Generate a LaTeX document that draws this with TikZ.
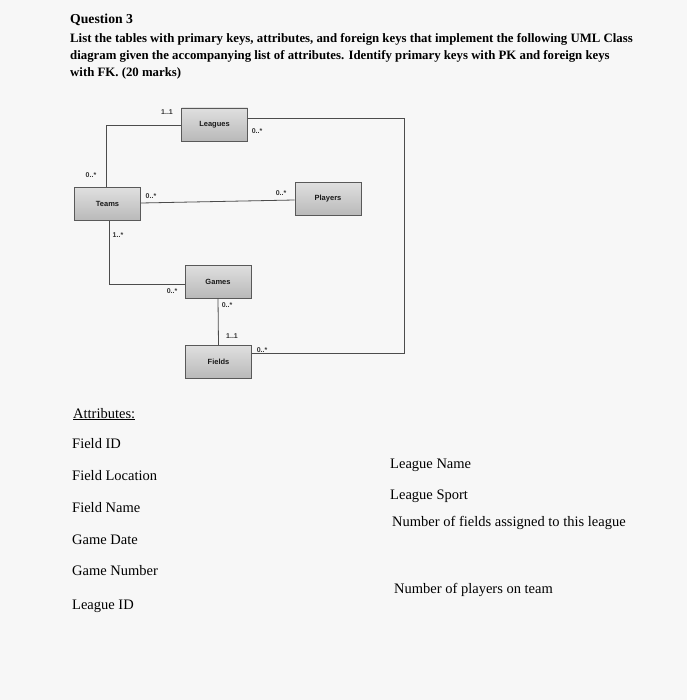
\documentclass[tikz,border=0pt]{standalone}
\usepackage{fontspec}
\setmainfont{Liberation Serif}
\newfontfamily\boxfont{Liberation Sans}
\begin{document}
\begin{tikzpicture}[x=1pt,y=-1pt,
  cls/.style={draw=gray!70!black,line width=0.8pt,top color=gray!25,bottom color=gray!55,minimum width=66pt,minimum height=33pt,font=\boxfont\bfseries\fontsize{7.5}{8}\selectfont,text=gray!20!black},
  mult/.style={font=\boxfont\bfseries\fontsize{7}{8}\selectfont,text=black!80,inner sep=0pt},
  conn/.style={draw=black!70,line width=0.8pt},
  txt/.style={anchor=base west,inner sep=0pt,font=\fontsize{14.5}{16}\selectfont}]
\useasboundingbox[fill=gray!6] (0,0) rectangle (687,700);
\node[anchor=base west,inner sep=0pt,font=\bfseries\fontsize{13.7}{15}\selectfont] (q) at (70,24) {Question 3};
\node[anchor=base west,inner sep=0pt,font=\bfseries\fontsize{12.8}{14}\selectfont] (p1) at (70,43) {List the tables with primary keys, attributes, and foreign keys that implement the following UML Class};
\node[anchor=base west,inner sep=0pt,font=\bfseries\fontsize{12.8}{14}\selectfont] (p2) at (70,60) {diagram given the accompanying list of attributes. Identify primary keys with PK and foreign keys};
\node[anchor=base west,inner sep=0pt,font=\bfseries\fontsize{12.8}{14}\selectfont] (p3) at (70,77) {with FK. (20 marks)};

\node[cls] (leagues) at (214.5,124.5) {Leagues};
\node[cls] (teams) at (107.5,204) {Teams};
\node[cls] (players) at (328,199) {Players};
\node[cls] (games) at (218,281.5) {Games};
\node[cls] (fields) at (218.5,362) {Fields};

\coordinate (c1) at (106,125);
\coordinate (c2) at (404,118);
\coordinate (c3) at (404,353);
\coordinate (c4) at (109,284);
\draw[conn] (leagues.west |- 0,125) -- (c1) -- (c1 |- teams.north);
\draw[conn] (leagues.east |- 0,118) -- (c2) -- (c3) -- (fields.east |- 0,353);
\draw[conn] (teams.east |- 0,203) -- (players.west |- 0,200);
\draw[conn] (c4 |- teams.south) -- (c4) -- (games.west |- 0,284);
\draw[conn] (games.south) -- (fields.north);

\node[mult] (m1) at (167,112) {1..1};
\node[mult] (m2) at (257,131) {0..*};
\node[mult] (m3) at (91,175) {0..*};
\node[mult] (m4) at (151,196) {0..*};
\node[mult] (m5) at (281,193) {0..*};
\node[mult] (m6) at (118,235) {1..*};
\node[mult] (m7) at (172,291) {0..*};
\node[mult] (m8) at (227,305) {0..*};
\node[mult] (m9) at (232,336) {1..1};
\node[mult] (m10) at (262,350) {0..*};

\node[txt] (att) at (73,418) {\underline{Attributes:}};
\node[txt] (a1) at (72,448) {Field ID};
\node[txt] (a2) at (72,480) {Field Location};
\node[txt] (a3) at (72,512) {Field Name};
\node[txt] (a4) at (72,544) {Game Date};
\node[txt] (a5) at (72,575) {Game Number};
\node[txt] (a6) at (72,609) {League ID};
\node[txt] (b1) at (390,468) {League Name};
\node[txt] (b2) at (390,499) {League Sport};
\node[txt] (b3) at (392,526) {Number of fields assigned to this league};
\node[txt] (b4) at (394,593) {Number of players on team};
\end{tikzpicture}
\end{document}
